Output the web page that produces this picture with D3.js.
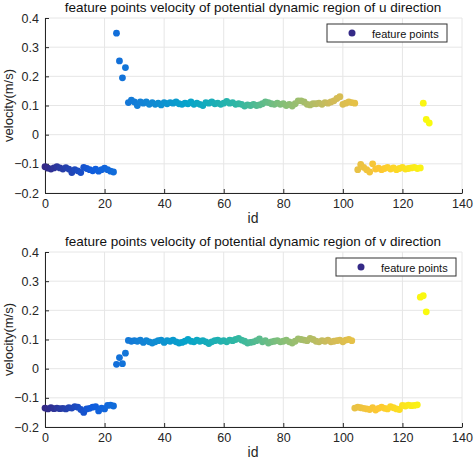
<!DOCTYPE html>
<html>
<head>
<meta charset="utf-8">
<script src="https://cdn.jsdelivr.net/npm/d3@7"></script>
<style>
  body { margin: 0; background: #fff; }
  text { font-family: "Liberation Sans", Arial, sans-serif; }
</style>
</head>
<body>
<div id="chart"></div>
<script>
// velocity values per feature point id (0..128)
const uValues = [
  -0.110,-0.115,-0.118,-0.114,-0.110,-0.114,-0.118,-0.113,-0.118,-0.130,-0.120,-0.124,-0.130,-0.112,-0.116,-0.120,-0.124,-0.118,-0.125,-0.120,-0.115,-0.120,-0.125,-0.128,
  0.348, 0.253, 0.195, 0.230,
  0.110, 0.118, 0.112, 0.100, 0.112, 0.108, 0.112, 0.104, 0.110, 0.104, 0.108, 0.102, 0.110, 0.106, 0.110, 0.108, 0.112, 0.106, 0.104, 0.108, 0.106, 0.112, 0.104, 0.108, 0.104, 0.100, 0.110, 0.108, 0.112, 0.106, 0.108, 0.104, 0.108, 0.114, 0.108, 0.110, 0.104, 0.106, 0.104, 0.098, 0.102, 0.100, 0.104, 0.100, 0.102, 0.106, 0.112, 0.110, 0.106, 0.104, 0.108, 0.104, 0.106, 0.100, 0.104, 0.098, 0.106, 0.116, 0.116, 0.112, 0.104, 0.102, 0.106, 0.106, 0.108, 0.104, 0.110, 0.108, 0.112, 0.116, 0.124, 0.130, 0.104, 0.108, 0.112, 0.110, 0.108,
  -0.120,-0.102,-0.112,-0.120,-0.128,-0.100,-0.118,-0.115,-0.120,-0.116,-0.112,-0.118,-0.114,-0.120,-0.116,-0.112,-0.118,-0.116,-0.114,-0.112,-0.116,-0.114,
  0.108, 0.052, 0.040
];
const vValues = [
  -0.135,-0.138,-0.134,-0.137,-0.135,-0.137,-0.136,-0.138,-0.134,-0.135,-0.130,-0.132,-0.140,-0.150,-0.138,-0.136,-0.132,-0.130,-0.145,-0.135,-0.138,-0.126,-0.125,-0.128,
  0.015, 0.038, 0.017, 0.053,
  0.097, 0.094, 0.096, 0.094, 0.098, 0.090, 0.096, 0.092, 0.088, 0.092, 0.096, 0.098, 0.090, 0.096, 0.094, 0.098, 0.092, 0.088, 0.090, 0.094, 0.100, 0.094, 0.092, 0.098, 0.094, 0.096, 0.092, 0.086, 0.092, 0.096, 0.098, 0.094, 0.096, 0.092, 0.098, 0.096, 0.100, 0.104, 0.098, 0.094, 0.088, 0.090, 0.092, 0.096, 0.102, 0.092, 0.096, 0.088, 0.092, 0.094, 0.096, 0.092, 0.094, 0.098, 0.092, 0.088, 0.094, 0.102, 0.100, 0.098, 0.096, 0.104, 0.100, 0.094, 0.092, 0.096, 0.094, 0.098, 0.092, 0.094, 0.096, 0.098, 0.092, 0.098, 0.100, 0.096,
  -0.135,-0.132,-0.134,-0.136,-0.138,-0.140,-0.134,-0.142,-0.136,-0.132,-0.136,-0.138,-0.130,-0.134,-0.138,-0.140,-0.126,-0.128,-0.125,-0.127,-0.126,-0.124,
  0.245, 0.250, 0.195
];
const xTicks = [0, 20, 40, 60, 80, 100, 120, 140];
const yTicks = [-0.2, -0.1, 0, 0.1, 0.2, 0.3, 0.4];
const titles = [
  "feature points velocity of potential dynamic region of u direction",
  "feature points velocity of potential dynamic region of v direction"
];

const parula = d3.scaleLinear()
  .domain(d3.range(9).map(i => i / 8))
  .range(["#352a87", "#0f5cdd", "#1481d6", "#06a4ca", "#2eb7a4", "#87bf77", "#d1bb59", "#fec832", "#f9fb0e"]);

const svg = d3.select("#chart").append("svg")
  .attr("width", 474).attr("height", 475);

function panel(values, title, top, legendX) {
  const left = 45, right = 462, plotTop = top + 18, plotBottom = top + 193;
  const x = d3.scaleLinear().domain([0, 140]).range([left, right]);
  const y = d3.scaleLinear().domain([-0.2, 0.4]).range([plotBottom, plotTop]);
  const g = svg.append("g");

  // grid
  g.selectAll(".gx").data(xTicks).join("line")
    .attr("x1", d => x(d)).attr("x2", d => x(d))
    .attr("y1", plotTop).attr("y2", plotBottom)
    .attr("stroke", "#e6e6e6");
  g.selectAll(".gy").data(yTicks).join("line")
    .attr("y1", d => y(d)).attr("y2", d => y(d))
    .attr("x1", left).attr("x2", right)
    .attr("stroke", "#e6e6e6");

  g.append("g").attr("transform", `translate(0,${plotBottom})`)
    .call(d3.axisBottom(x).tickValues(xTicks).tickSize(-4).tickSizeOuter(0).tickPadding(6))
    .call(a => a.selectAll("text").attr("font-size", 12.5).attr("fill", "#262626"));
  g.append("g").attr("transform", `translate(${left},0)`)
    .call(d3.axisLeft(y).tickValues(yTicks).tickFormat(d => d3.format("")(+d.toFixed(1))).tickSize(-4).tickSizeOuter(0).tickPadding(6))
    .call(a => a.selectAll("text").attr("font-size", 12.5).attr("fill", "#262626"));
  g.selectAll(".domain, .tick line").attr("stroke", "#262626");

  g.append("text").attr("x", 253).attr("y", top + 12).attr("text-anchor", "middle")
    .attr("font-size", 13.5).attr("fill", "#111").text(title);
  g.append("text").attr("x", 253).attr("y", plotBottom + 30).attr("text-anchor", "middle")
    .attr("font-size", 14).attr("fill", "#262626").text("id");
  g.append("text").attr("transform", `translate(13,${(plotTop + plotBottom) / 2})rotate(-90)`)
    .attr("text-anchor", "middle").attr("font-size", 13).attr("fill", "#262626").text("velocity(m/s)");

  g.selectAll("circle.pt").data(values).join("circle")
    .attr("cx", (d, i) => x(i)).attr("cy", d => y(d)).attr("r", 3.4)
    .attr("fill", (d, i) => parula(i / (values.length - 1)));

  // legend
  g.append("rect").attr("x", legendX).attr("y", top + 24).attr("width", 120).attr("height", 18)
    .attr("fill", "#fff").attr("stroke", "#333");
  g.append("circle").attr("cx", legendX + 25).attr("cy", top + 33).attr("r", 3.5).attr("fill", "#352a87");
  g.append("text").attr("x", legendX + 45).attr("y", top + 37.5).attr("font-size", 11).attr("fill", "#111").text("feature points");
}

panel(uValues, titles[0], 0, 327);
panel(vValues, titles[1], 234, 336);
</script>
</body>
</html>
